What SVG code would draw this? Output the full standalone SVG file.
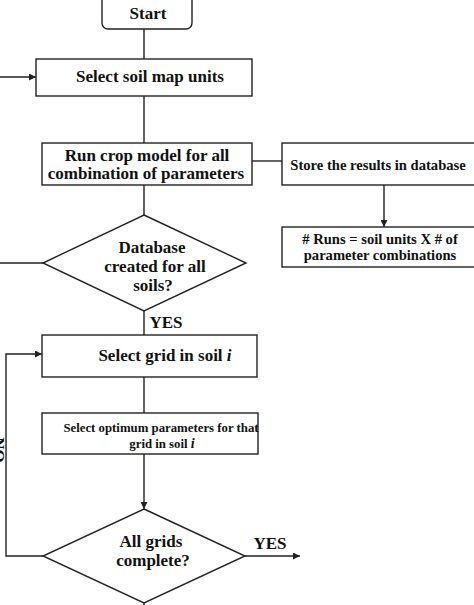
<svg xmlns="http://www.w3.org/2000/svg" width="474" height="605" viewBox="0 0 474 605">
<style>
.box{fill:#fff;stroke:#222;stroke-width:1.4}
.ln{fill:none;stroke:#222;stroke-width:1.4}
text{font-family:"Liberation Serif","Times New Roman",serif;font-weight:bold;fill:#111;text-anchor:middle}
.f17{font-size:17px}
.f15{font-size:14.6px}
.f13{font-size:12.8px}
</style>
<defs>
<marker id="arr" viewBox="0 0 10 10" refX="10" refY="5" markerWidth="8" markerHeight="7" markerUnits="userSpaceOnUse" orient="auto">
<path d="M0,0 L10,5 L0,10 z" fill="#222"/>
</marker>
</defs>
<rect width="474" height="605" fill="#fff"/>
<g id="connectors">
<line class="ln" x1="144" y1="29" x2="144" y2="59"/>
<line class="ln" x1="0" y1="77" x2="36" y2="77" marker-end="url(#arr)"/>
<line class="ln" x1="144" y1="96" x2="144" y2="143"/>
<line class="ln" x1="252" y1="161" x2="282" y2="161"/>
<line class="ln" x1="384" y1="185" x2="384" y2="227" marker-end="url(#arr)"/>
<line class="ln" x1="144" y1="185" x2="144" y2="215"/>
<line class="ln" x1="0" y1="263" x2="43" y2="263"/>
<line class="ln" x1="144" y1="311" x2="144" y2="335"/>
<line class="ln" x1="144" y1="377" x2="144" y2="413"/>
<line class="ln" x1="144" y1="454" x2="144" y2="509" marker-end="url(#arr)"/>
<polyline class="ln" points="43,556 6,556 6,354 42,354" marker-end="url(#arr)"/>
<line class="ln" x1="245" y1="556" x2="300" y2="556" marker-end="url(#arr)"/>
<line class="ln" x1="144" y1="603" x2="144" y2="606"/>
<text class="f17" x="166" y="328">YES</text>
<text class="f17" x="270" y="549">YES</text>
<text class="f17" transform="translate(-7,450) rotate(90)">NO</text>
</g>
<g id="start">
<rect class="box" x="102" y="-6" width="90" height="35" rx="6"/>
<text class="f17" x="148" y="19">Start</text>
</g>
<g id="select-soil">
<rect class="box" x="36" y="59" width="216" height="37"/>
<text class="f17" x="150" y="82">Select soil map units</text>
</g>
<g id="run-crop">
<rect class="box" x="42" y="143" width="210" height="42"/>
<text class="f17" x="147" y="161">Run crop model for all</text>
<text class="f17" x="146" y="179">combination of parameters</text>
</g>
<g id="store">
<rect class="box" x="282" y="143" width="194" height="42"/>
<text class="f15" x="378" y="170">Store the results in database</text>
</g>
<g id="runs">
<rect class="box" x="282" y="227" width="194" height="40"/>
<text class="f15" x="380" y="244">#&#160;Runs = soil units X #&#160;of</text>
<text class="f15" x="380" y="260">parameter combinations</text>
</g>
<g id="database-decision">
<polygon class="box" points="144,215 246,263 144,311 43,263"/>
<text class="f17" x="152" y="253">Database</text>
<text class="f17" x="155" y="272">created for all</text>
<text class="f17" x="153" y="291">soils?</text>
</g>
<g id="select-grid">
<rect class="box" x="42" y="335" width="215" height="42"/>
<text class="f17" x="165" y="361">Select grid in soil <tspan font-style="italic">i</tspan></text>
</g>
<g id="optimum">
<rect class="box" x="42" y="413" width="216" height="41"/>
<text class="f13" x="161" y="432">Select optimum parameters for that</text>
<text class="f13" x="162" y="448">grid in soil <tspan font-style="italic" font-size="14px">i</tspan></text>
</g>
<g id="grids-decision">
<polygon class="box" points="144,509 245,556 144,603 43,556"/>
<text class="f17" x="151" y="547">All grids</text>
<text class="f17" x="153" y="566">complete?</text>
</g>
</svg>
